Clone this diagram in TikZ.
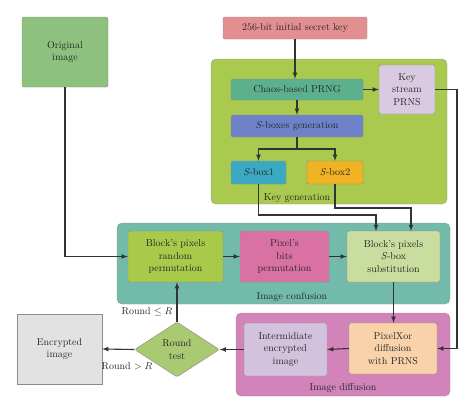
\documentclass[tikz,border=0pt]{standalone}
\usepackage{amsmath}
\usetikzlibrary{shapes.geometric}
\definecolor{origgreen}{HTML}{8DC17D}
\definecolor{keyred}{HTML}{E38F8F}
\definecolor{gengreen}{HTML}{A9C94F}
\definecolor{prngteal}{HTML}{5DB08E}
\definecolor{streamlav}{HTML}{D9CAE2}
\definecolor{sgenblue}{HTML}{6E82CA}
\definecolor{sboxcyan}{HTML}{3CA9C2}
\definecolor{sboxorange}{HTML}{F1B223}
\definecolor{confteal}{HTML}{72BAAA}
\definecolor{permgreen}{HTML}{A9C94B}
\definecolor{bitspink}{HTML}{D972A2}
\definecolor{substgreen}{HTML}{C9DD9E}
\definecolor{diffpink}{HTML}{D283BA}
\definecolor{interlav}{HTML}{D2C2DD}
\definecolor{xorpeach}{HTML}{F9D2AA}
\definecolor{roundgreen}{HTML}{A9C972}
\definecolor{encgray}{HTML}{E2E2E2}
\begin{document}
\begin{tikzpicture}[x=1pt,y=-1pt,
  font=\fontsize{10}{12.5}\selectfont,
  box/.style={draw=black!45,thin,rounded corners=1.5pt,align=center,text=black!85,inner sep=1pt},
  region/.style={draw=black!40,thin,rounded corners=5pt},
  link/.style={line width=1.1pt,black!80,-latex}]
  \useasboundingbox (0,0) rectangle (474,413);
  % regions
  \node[region,fill=gengreen,minimum width=236,minimum height=145] (genbox) at (329,131.5) {};
  \node[region,fill=confteal,minimum width=333,minimum height=81] (confbox) at (283.5,263.5) {};
  \node[region,fill=diffpink,minimum width=214,minimum height=83] (diffbox) at (343,354.5) {};
  \node[text=black!85] (genlabel) at (297,198) {Key generation};
  \node[text=black!85] (conflabel) at (292,297) {Image confusion};
  \node[text=black!85] (difflabel) at (343,388) {Image diffusion};
  % boxes
  \node[box,fill=origgreen,minimum width=86,minimum height=70] (orig) at (65,52) {Original\\image};
  \node[box,fill=keyred,minimum width=144,minimum height=22] (key) at (295,28) {256-bit initial secret key};
  \node[box,fill=prngteal,minimum width=132,minimum height=21] (prng) at (297,89.5) {Chaos-based PRNG};
  \node[box,fill=streamlav,minimum width=56,minimum height=49] (stream) at (407,89.5) {Key\\stream\\PRNS};
  \node[box,fill=sgenblue,minimum width=132,minimum height=22] (sgen) at (297,126) {\textit{S}-boxes generation};
  \node[box,fill=sboxcyan,minimum width=55,minimum height=23] (sbox1) at (258.5,172.5) {\textit{S}-box1};
  \node[box,fill=sboxorange,minimum width=56,minimum height=23] (sbox2) at (335,172.5) {\textit{S}-box2};
  \node[box,fill=permgreen,minimum width=95,minimum height=51] (perm) at (175.5,256.5) {Block's pixels\\random\\permutation};
  \node[box,fill=bitspink,minimum width=89,minimum height=51] (bits) at (284.5,256.5) {Pixel's\\bits\\permutation};
  \node[box,fill=substgreen,minimum width=93,minimum height=51] (subst) at (393.5,256.5) {Block's pixels\\\textit{S}-box\\substitution};
  \node[box,fill=interlav,minimum width=83,minimum height=53] (inter) at (285.5,349.5) {Intermidiate\\encrypted\\image};
  \node[box,fill=xorpeach,minimum width=88,minimum height=51] (xor) at (393,348.5) {PixelXor\\diffusion\\with PRNS};
  \node[box,diamond,aspect=1.55,fill=roundgreen,minimum width=85,minimum height=55,inner sep=0pt] (round) at (177,349.5) {Round\\test};
  \node[box,rounded corners=0pt,fill=encgray,minimum width=85,minimum height=70] (enc) at (59.5,349) {Encrypted\\image};
  \node[text=black!85] (le) at (147,312) {Round $\leq R$};
  \node[text=black!85] (gt) at (127,366) {Round $> R$};
  % connectors
  \coordinate (split) at (297,149);
  \coordinate (s1turn) at (258.5,215);
  \coordinate (s2turn) at (335,208);
  \coordinate (s1in) at (376,231);
  \coordinate (s2in) at (411,231);
  \coordinate (streamturn) at (457,89.5);
  \coordinate (origturn) at (65,256.5);
  \draw[link] (key.south) -- (key.south |- prng.north);
  \draw[link] (prng.east) -- (stream.west);
  \draw[link] (prng.south) -- (sgen.north);
  \draw[link] (sgen.south) -- (split) -| (sbox1.north);
  \draw[link] (split) -| (sbox2.north);
  \draw[link] (sbox1.south) -- (s1turn) -| (s1in);
  \draw[link] (sbox2.south) -- (s2turn) -| (s2in);
  \draw[link] (stream.east) -- (streamturn) |- (xor.east);
  \draw[link] (orig.south) -- (origturn) -- (perm.west);
  \draw[link] (perm.east) -- (bits.west);
  \draw[link] (bits.east) -- (subst.west);
  \draw[link] (subst.south) -- (subst.south |- xor.north);
  \draw[link] (xor.west) -- (inter.east);
  \draw[link] (inter.west) -- (round.east);
  \draw[link] (round.west) -- (enc.east);
  \draw[link] (round.north) -- (round.north |- perm.south);
\end{tikzpicture}
\end{document}
